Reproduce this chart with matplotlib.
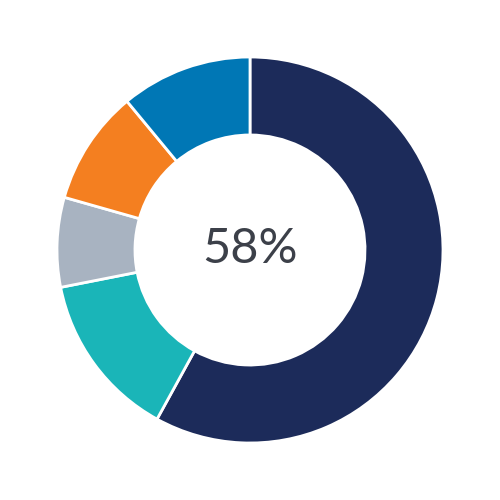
import matplotlib
matplotlib.use("Agg")
import matplotlib.pyplot as plt

# slices clockwise from 12 o'clock
labels = ["Navy", "Teal", "Gray", "Orange", "Blue"]
values = [58, 13.9, 7.5, 9.6, 11]
colors = ["#1c2b5a", "#1ab5b8", "#a8b3c1", "#f47f20", "#0077b5"]
center_text = "58%"

fig = plt.figure(figsize=(5, 5), dpi=100)
ax = fig.add_axes([0, 0, 1, 1])

ax.pie(
    values,
    colors=colors,
    startangle=90,
    counterclock=False,
    radius=1.0,
    wedgeprops=dict(width=0.404, edgecolor="white", linewidth=2),
)
lim = 250 / 193
ax.set_xlim(-lim, lim)
ax.set_ylim(-lim, lim)
ax.set_aspect("equal")
ax.axis("off")

ax.text(0, 0.025, center_text, ha="center", va="center_baseline",
        fontsize=35, family=["Lato", "DejaVu Sans"], color="#3c4049")

fig.savefig("out.png", dpi=100, facecolor="white")
